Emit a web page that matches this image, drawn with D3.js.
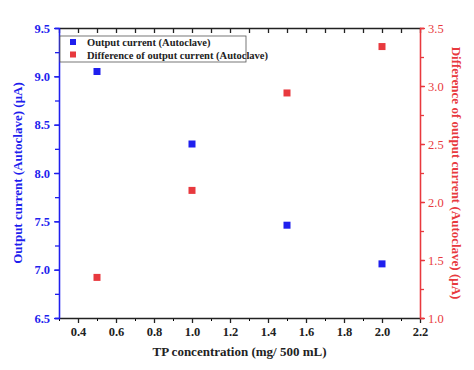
<!DOCTYPE html>
<html>
<head>
<meta charset="utf-8">
<script src="https://cdn.jsdelivr.net/npm/d3@7"></script>
<style>
  body { margin: 0; background: #fff; }
  text { font-family: "Liberation Serif", serif; }
</style>
</head>
<body>
<svg id="chart" width="474" height="370"></svg>
<script>
// data
var conc = [0.5, 1.0, 1.5, 2.0];
var outputCurrent = [9.05, 8.3, 7.46, 7.06];
var diffCurrent = [1.35, 2.1, 2.94, 3.34];
var xTicks = [0.4, 0.6, 0.8, 1.0, 1.2, 1.4, 1.6, 1.8, 2.0, 2.2];
var leftTicks = [6.5, 7.0, 7.5, 8.0, 8.5, 9.0, 9.5];
var rightTicks = [1.0, 1.5, 2.0, 2.5, 3.0, 3.5];
var legendLabels = ["Output current (Autoclave)", "Difference of output current (Autoclave)"];

var blue = "#1f1fee", red = "#e8393e";
var m = { l: 59, r: 54, t: 28, b: 52 };
var W = 474, H = 370;
var svg = d3.select("#chart");

var x = d3.scaleLinear().domain([0.3, 2.2]).range([m.l, W - m.r]);
var yL = d3.scaleLinear().domain([6.5, 9.5]).range([H - m.b, m.t]);
var yR = d3.scaleLinear().domain([1.0, 3.5]).range([H - m.b, m.t]);

var minorX = d3.range(0.3, 2.21, 0.1).map(v => +v.toFixed(2));

// bottom axis: minor then major
svg.append("g").attr("transform", "translate(0," + (H - m.b) + ")")
  .call(d3.axisBottom(x).tickValues(minorX).tickSize(3).tickFormat(""))
  .call(g => g.select(".domain").remove());
var gx = svg.append("g").attr("transform", "translate(0," + (H - m.b) + ")")
  .call(d3.axisBottom(x).tickValues(xTicks).tickSize(5).tickSizeOuter(0).tickPadding(4).tickFormat(d3.format(".1f")));
gx.selectAll("text").attr("font-size", 12.5).attr("font-weight", "bold").attr("fill", "#222");
gx.selectAll("line, .domain").attr("stroke", "#222").attr("stroke-width", 1.3);

// top mirror axis, ticks inward
var gt = svg.append("g").attr("transform", "translate(0," + m.t + ")")
  .call(d3.axisBottom(x).tickValues(minorX).tickSize(5).tickSizeOuter(0).tickFormat(""));
gt.selectAll("line, .domain").attr("stroke", "#222").attr("stroke-width", 1.3);

// left axis
var minorL = d3.range(6.5, 9.51, 0.25);
var gl0 = svg.append("g").attr("transform", "translate(" + m.l + ",0)")
  .call(d3.axisLeft(yL).tickValues(minorL).tickSize(4).tickFormat(""));
gl0.selectAll("line, .domain").attr("stroke", blue).attr("stroke-width", 1.3);
var gl = svg.append("g").attr("transform", "translate(" + m.l + ",0)")
  .call(d3.axisLeft(yL).tickValues(leftTicks).tickSize(5).tickSizeOuter(0).tickPadding(4).tickFormat(d3.format(".1f")));
gl.selectAll("line, .domain").attr("stroke", blue).attr("stroke-width", 1.3);
gl.selectAll("text").attr("font-size", 12.5).attr("font-weight", "bold").attr("fill", blue);

// right axis
var minorR = d3.range(1.0, 3.51, 0.25);
var gr0 = svg.append("g").attr("transform", "translate(" + (W - m.r) + ",0)")
  .call(d3.axisRight(yR).tickValues(minorR).tickSize(4).tickFormat(""));
gr0.selectAll("line, .domain").attr("stroke", red).attr("stroke-width", 1.3);
var gr = svg.append("g").attr("transform", "translate(" + (W - m.r) + ",0)")
  .call(d3.axisRight(yR).tickValues(rightTicks).tickSize(5).tickSizeOuter(0).tickPadding(3).tickFormat(d3.format(".1f")));
gr.selectAll("line, .domain").attr("stroke", red).attr("stroke-width", 1.3);
gr.selectAll("text").attr("font-size", 12.5).attr("fill", red);

// points
var s = 7;
svg.append("g").selectAll("rect").data(conc).join("rect")
  .attr("x", (d) => x(d) - s / 2)
  .attr("y", (d, i) => yL(outputCurrent[i]) - s / 2)
  .attr("width", s).attr("height", s).attr("fill", blue);
svg.append("g").selectAll("rect").data(conc).join("rect")
  .attr("x", (d) => x(d) - s / 2)
  .attr("y", (d, i) => yR(diffCurrent[i]) - s / 2)
  .attr("width", s).attr("height", s).attr("fill", red);

// legend
var lg = svg.append("g").attr("transform", "translate(60,36)");
lg.append("rect").attr("width", 186).attr("height", 26)
  .attr("fill", "#fff").attr("stroke", "#555").attr("stroke-width", 0.8);
[blue, red].forEach(function(c, i) {
  lg.append("rect").attr("x", 10).attr("y", 3 + i * 12.5).attr("width", 6).attr("height", 6).attr("fill", c);
  lg.append("text").attr("x", 27).attr("y", 10 + i * 12.5)
    .attr("font-size", 10.5).attr("font-weight", "bold").attr("fill", "#222")
    .text(legendLabels[i]);
});

// axis titles
svg.append("text").attr("x", (m.l + W - m.r) / 2).attr("y", 356)
  .attr("text-anchor", "middle").attr("font-size", 13).attr("font-weight", "bold").attr("fill", "#222")
  .text("TP concentration (mg/ 500 mL)");
svg.append("text").attr("transform", "translate(22," + ((m.t + H - m.b) / 2) + ") rotate(-90)")
  .attr("text-anchor", "middle").attr("font-size", 13).attr("font-weight", "bold").attr("fill", blue)
  .text("Output current (Autoclave) (\u03bcA)");
svg.append("text").attr("transform", "translate(452," + ((m.t + H - m.b) / 2) + ") rotate(90)")
  .attr("text-anchor", "middle").attr("font-size", 13).attr("font-weight", "bold").attr("fill", red)
  .text("Difference of output current (Autoclave) (\u03bcA)");
</script>
</body>
</html>
